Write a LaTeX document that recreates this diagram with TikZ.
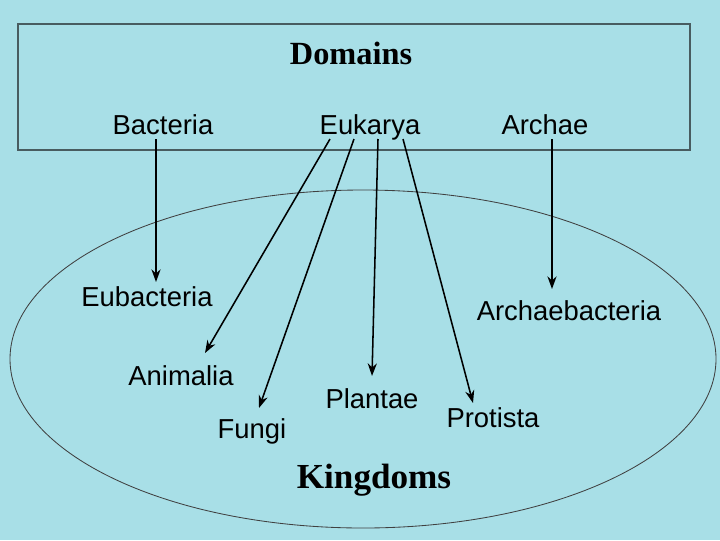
\documentclass[tikz,border=0pt]{standalone}
\usepackage{fontspec}
\setmainfont{Liberation Sans}
\newfontfamily\titlefont{Liberation Serif}
\usetikzlibrary{arrows.meta}
\definecolor{waterbg}{RGB}{168,223,231}
\definecolor{boxline}{RGB}{72,92,96}

\begin{document}
\begin{tikzpicture}[x=0.025cm,y=-0.025cm,
  taxon/.style={font=\fontsize{19.5}{22}\selectfont, inner sep=0pt, anchor=base},
  heading/.style={font=\titlefont\bfseries\fontsize{23}{26}\selectfont, inner sep=0pt, anchor=base},
  link/.style={-{Stealth[length=9pt,width=6.5pt]}, line width=1.1pt}]
  \fill[waterbg] (0,0) rectangle (720,540);
  \draw[boxline, line width=0.8pt] (18,24) rectangle (690,150);
  \draw[black!75, line width=0.6pt] (363,359) ellipse [x radius=353, y radius=169];
  % domains
  \node[heading] (domains) at (351,64) {Domains};
  \node[taxon] (bacteria) at (163,134) {Bacteria};
  \node[taxon] (eukarya) at (370,134) {Eukarya};
  \node[taxon] (archae) at (545,134) {Archae};
  % kingdoms
  \node[taxon] (eubacteria) at (147,306) {Eubacteria};
  \node[taxon] (archaebacteria) at (569,320) {Archaebacteria};
  \node[taxon] (animalia) at (181,385) {Animalia};
  \node[taxon] (fungi) at (252,438) {Fungi};
  \node[taxon] (plantae) at (372,408) {Plantae};
  \node[taxon] (protista) at (493,427) {Protista};
  \node[heading, font=\titlefont\bfseries\fontsize{25}{28}\selectfont] (kingdoms) at (374,488) {Kingdoms};
  % arrow ends
  \coordinate (bacteria out) at (156,139);
  \coordinate (archae out) at (552,139);
  \coordinate (eukarya out1) at (330,139);
  \coordinate (eukarya out2) at (354,139);
  \coordinate (eukarya out3) at (378,139);
  \coordinate (eukarya out4) at (403,139);
  \coordinate (eubacteria in) at (156,282);
  \coordinate (archaebacteria in) at (552,289);
  \coordinate (animalia in) at (205,353);
  \coordinate (fungi in) at (259,408);
  \coordinate (plantae in) at (372,376);
  \coordinate (protista in) at (473,403);
  \draw[link] (bacteria out) -- (eubacteria in);
  \draw[link] (archae out) -- (archaebacteria in);
  \draw[link] (eukarya out1) -- (animalia in);
  \draw[link] (eukarya out2) -- (fungi in);
  \draw[link] (eukarya out3) -- (plantae in);
  \draw[link] (eukarya out4) -- (protista in);
\end{tikzpicture}
\end{document}
